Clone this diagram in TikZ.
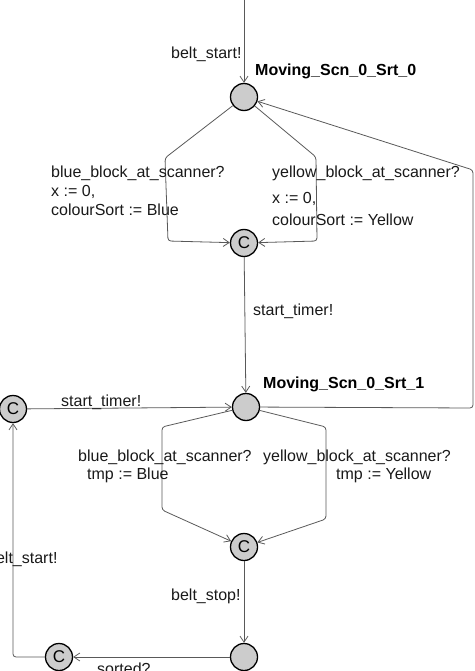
\documentclass[tikz,border=0pt]{standalone}
\usepackage{fontspec}
\setmainfont{Liberation Sans}
\usetikzlibrary{arrows.meta}
\begin{document}
\begin{tikzpicture}[x=1pt,y=-1pt,
  loc/.style={circle,draw=black,line width=1.3pt,fill=black!20,minimum size=27pt,inner sep=0pt,font=\fontsize{17}{17}\selectfont},
  conn/.style={draw=black!65,line width=0.8pt,rounded corners=3pt,-{Straight Barb[length=6pt,width=8pt]}},
  lbl/.style={anchor=base west,inner sep=0pt,font=\fontsize{16}{19}\selectfont,text=black!90},
  locname/.style={anchor=base west,inner sep=0pt,font=\bfseries\fontsize{16}{19}\selectfont}]
\useasboundingbox (0,0) rectangle (474,671);
\clip (0,0) rectangle (474,671);
% locations
\node[loc] (s0) at (244,97) {};
\node[loc] (c1) at (244,243) {C};
\node[loc] (s1) at (246,407) {};
\node[loc] (c4) at (13,409) {C};
\node[loc] (c2) at (244,547) {C};
\node[loc] (b)  at (244,657) {};
\node[loc] (c3) at (59,657) {C};
\coordinate (top) at (244,-5);
% names
\node[locname] (n0) at (255,76) {Moving\_Scn\_0\_Srt\_0};
\node[locname] (n1) at (263,388) {Moving\_Scn\_0\_Srt\_1};
% edges
\draw[conn] (top) -- (s0);
\draw[conn] (s0) -- (165,158) -- (168,241) -- (c1);
\draw[conn] (s0) -- (316,157) -- (317,241) -- (c1);
\draw[conn] (c1) -- (s1);
\draw[conn] (s1) -- (473,408) -- (473,170) -- (s0);
\draw[conn] (c4) -- (s1);
\draw[conn] (s1) -- (162,427) -- (162,510) -- (c2);
\draw[conn] (s1) -- (326,427) -- (326,519) -- (c2);
\draw[conn] (c2) -- (b);
\draw[conn] (b) -- (c3);
\draw[conn] (c3) -- (13,657) -- (c4);
% labels
\node[lbl] (l1) at (171,59) {belt\_start!};
\node[lbl] (l2) at (51,177) {blue\_block\_at\_scanner?};
\node[lbl] (l3) at (51,196) {x := 0,};
\node[lbl] (l4) at (51,215) {colourSort := Blue};
\node[lbl] (l5) at (272,177) {yellow\_block\_at\_scanner?};
\node[lbl] (l6) at (272,203) {x := 0,};
\node[lbl] (l7) at (272,225) {colourSort := Yellow};
\node[lbl] (l8) at (253,315) {start\_timer!};
\node[lbl] (l9) at (61,406) {start\_timer!};
\node[lbl] (l10) at (78,461) {blue\_block\_at\_scanner?};
\node[lbl] (l11) at (87,479) {tmp := Blue};
\node[lbl] (l12) at (263,461) {yellow\_block\_at\_scanner?};
\node[lbl] (l13) at (336,479) {tmp := Yellow};
\node[lbl] (l14) at (171,600) {belt\_stop!};
\node[lbl] (l15) at (-13,563) {belt\_start!};
\node[lbl] (l16) at (97,674) {sorted?};
\end{tikzpicture}
\end{document}
